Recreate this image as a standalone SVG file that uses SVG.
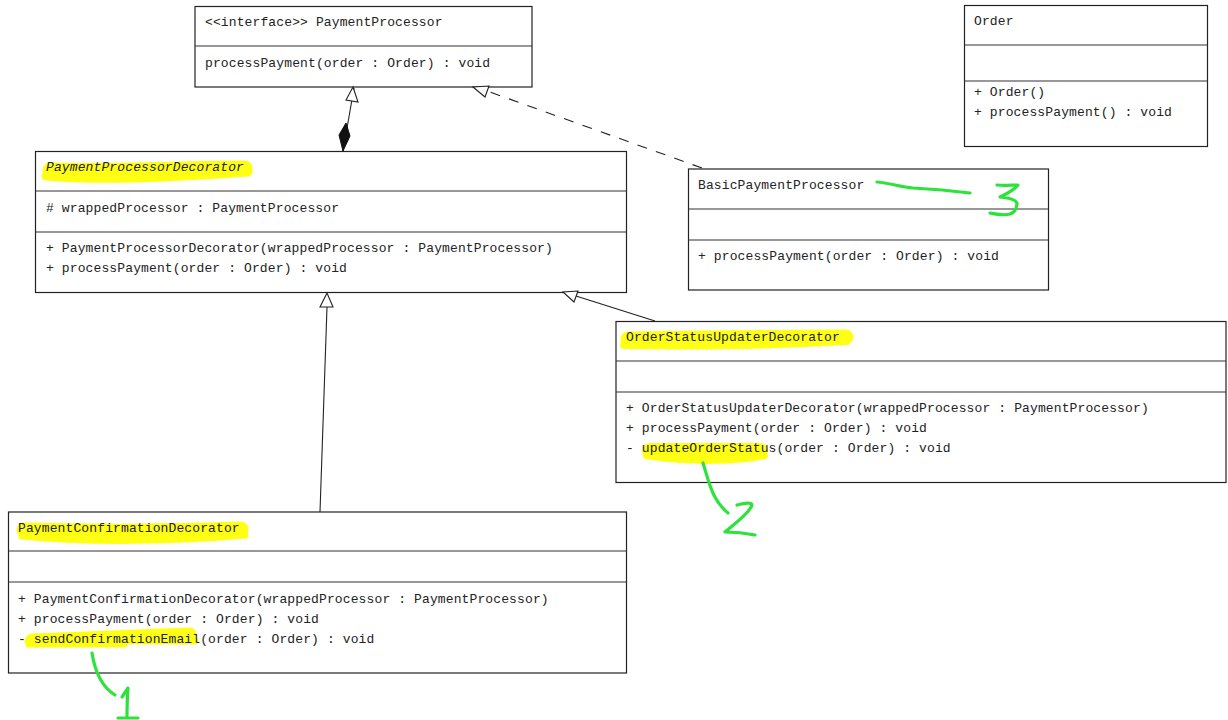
<svg xmlns="http://www.w3.org/2000/svg" width="1228" height="720" viewBox="0 0 1228 720">
<style>
.box{fill:#fff;stroke:#222;stroke-width:1.2}
.div{stroke:#333;stroke-width:1.2;fill:none}
text{font-family:"Liberation Mono","DejaVu Sans Mono",monospace;font-size:13px;letter-spacing:.12px;fill:#222;white-space:pre}
.it{font-style:italic}
.hl{fill:none;stroke:#ffff14;stroke-linecap:round;stroke-linejoin:round}
.gr{fill:none;stroke:#2ee23c;stroke-width:3.2;stroke-linecap:round;stroke-linejoin:round}
.conn{fill:none;stroke:#222;stroke-width:1.1}
.tri{fill:#fff;stroke:#222;stroke-width:1.1}
</style>
<rect width="1228" height="720" fill="#fff"/>
<g id="node-interface">
<rect class="box" x="195" y="6.500" width="337" height="80.500"/>
<path class="div" d="M195 46H532"/>
<text x="205" y="26">&lt;&lt;interface&gt;&gt; PaymentProcessor</text>
<text x="205" y="67">processPayment(order : Order) : void</text>
</g>
<g id="node-order">
<rect class="box" x="964.500" y="5.500" width="243" height="141"/>
<path class="div" d="M964.500 45H1207.500M964.500 81H1207.500"/>
<text x="974" y="25">Order</text>
<text x="974" y="96">+ Order()</text>
<text x="974" y="116">+ processPayment() : void</text>
</g>
<g id="node-decorator">
<rect class="box" x="35.500" y="151.500" width="591" height="141"/>
<path class="hl" stroke-width="15" d="M50 170C100 172 190 168 245 168"/>
<path class="hl" stroke-width="9" d="M46 176C100 181 180 177 248 172"/>
<path class="div" d="M35.500 191H626.500M35.500 232H626.500"/>
<text class="it" x="46" y="171">PaymentProcessorDecorator</text>
<text x="46" y="212"># wrappedProcessor : PaymentProcessor</text>
<text x="46" y="252">+ PaymentProcessorDecorator(wrappedProcessor : PaymentProcessor)</text>
<text x="46" y="272">+ processPayment(order : Order) : void</text>
</g>
<g id="node-basic">
<rect class="box" x="688.500" y="169" width="360" height="121"/>
<path class="div" d="M688.500 209H1048.500M688.500 240H1048.500"/>
<text x="698" y="189">BasicPaymentProcessor</text>
<text x="698" y="260">+ processPayment(order : Order) : void</text>
</g>
<g id="node-status">
<rect class="box" x="616" y="321.500" width="610" height="161"/>
<path class="hl" stroke-width="15" d="M628 339C700 338 780 337 846 337"/>
<path class="hl" stroke-width="8" d="M624 345C700 346 780 345 846 341"/>
<path class="hl" stroke-width="16" d="M650 451H760"/>
<path class="hl" stroke-width="6" d="M646 456C690 463 740 462 765 456"/>
<path class="div" d="M616 361H1226M616 392H1226"/>
<text x="626" y="341">OrderStatusUpdaterDecorator</text>
<text x="626" y="412">+ OrderStatusUpdaterDecorator(wrappedProcessor : PaymentProcessor)</text>
<text x="626" y="432">+ processPayment(order : Order) : void</text>
<text x="626" y="452">- updateOrderStatus(order : Order) : void</text>
</g>
<g id="node-confirmation">
<rect class="box" x="8.500" y="512" width="618" height="161"/>
<path class="hl" stroke-width="15" d="M24 530C100 532 180 531 241 529"/>
<path class="hl" stroke-width="7" d="M22 536C90 543 180 541 245 535"/>
<path class="hl" stroke-width="13" d="M32 640C80 638 140 636 190 634"/>
<path class="hl" stroke-width="7" d="M28 641H195"/>
<path class="hl" stroke-width="5" d="M28 645H125"/>
<path class="div" d="M8.500 551H626.500M8.500 582H626.500"/>
<text x="18" y="532">PaymentConfirmationDecorator</text>
<text x="18" y="603">+ PaymentConfirmationDecorator(wrappedProcessor : PaymentProcessor)</text>
<text x="18" y="623">+ processPayment(order : Order) : void</text>
<text x="18" y="643">- sendConfirmationEmail(order : Order) : void</text>
</g>
<g id="connectors">
<path class="conn" d="M343 151L354 88"/>
<path class="tri" d="M353 87L346 100L358 102Z"/>
<path d="M343 151L339 135L346 123L350 136Z" fill="#111" stroke="#111"/>
<path class="conn" stroke-dasharray="10 9.500" d="M702 168L487 91"/>
<path class="tri" d="M473 87L485 97L489 86Z"/>
<path class="conn" d="M320 512L327 307"/>
<path class="tri" d="M327 293L320 307L333 307Z"/>
<path class="conn" d="M655 321L576 296"/>
<path class="tri" d="M563 292L574 302L578 291Z"/>
</g>
<g id="annotations">
<path class="gr" d="M92 653C95 672 102 687 115 695M122 697L128 688C127 700 127 708 127 718M118 718H138"/>
<path class="gr" d="M703 463C709 482 712 500 728 513M737 505C745 503 752 502 752 505C750 513 733 525 725 532C735 532 745 533 755 535"/>
<path class="gr" d="M877 182C890 183 900 187 913 188C935 189 955 191 970 193M997 185C1004 186 1011 185 1018 185C1013 191 1006 194 1000 197C1010 198 1017 200 1017 204C1016 210 1015 212 1010 214C1003 216 996 214 990 213"/>
</g>
</svg>
